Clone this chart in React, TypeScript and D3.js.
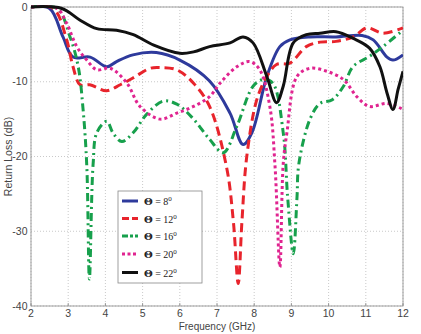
import React from "react";
import * as d3 from "d3";

const xTicks = [2, 3, 4, 5, 6, 7, 8, 9, 10, 11, 12];
const yTicks = [0, -10, -20, -30, -40];

const blueF = [2, 2.5, 2.86, 3.13, 3.59, 4.04, 4.3, 4.74, 5.37, 6.0, 6.8, 7.35, 7.7, 7.94, 8.34, 8.69, 8.96, 9.5, 10.2, 10.9, 11.2, 11.57, 11.73, 12];
const blueV = [0, -0.2, -4, -6.7, -6.7, -8, -7.3, -6.4, -6.1, -7.1, -9.9, -14.2, -18.4, -16.8, -9.3, -5.3, -4.4, -4, -4, -3.8, -4.4, -6.7, -7.1, -6.4];

const redF = [2, 2.6, 2.96, 3.13, 3.32, 3.58, 4.03, 4.4, 4.74, 5.2, 5.47, 5.92, 6.37, 6.8, 7.26, 7.44, 7.57, 7.67, 7.8, 8.07, 8.34, 8.6, 8.96, 9.4, 9.77, 10.2, 10.66, 11.03, 11.46, 12];
const redV = [0, -0.2, -4.4, -8, -10.4, -10.4, -11.2, -10.4, -9.5, -8.2, -8.1, -8.4, -10.2, -13.3, -21.5, -28.7, -37, -28.7, -20, -12.4, -9.3, -7.7, -7.5, -5.3, -4.7, -4.6, -4, -2.8, -3.5, -2.8];

const greenF = [2, 2.7, 3.05, 3.27, 3.4, 3.5, 3.57, 3.67, 3.77, 4.04, 4.2, 4.44, 4.75, 5.1, 5.55, 5.92, 6.37, 6.8, 7.17, 7.53, 7.97, 8.24, 8.5, 8.78, 8.9, 9.05, 9.15, 9.2, 9.5, 9.77, 10.1, 10.4, 10.65, 11.1, 11.46, 12];
const greenV = [0, -0.2, -4, -8, -13.7, -21.3, -36.4, -21, -16.8, -15.3, -16.8, -18, -16.8, -14.4, -12.6, -13, -15, -17.7, -19.5, -16, -10.6, -9.7, -10.2, -16.8, -25.5, -33, -25.5, -21, -15, -12.9, -12.4, -10.6, -8, -6.6, -5.3, -3.1];

const pinkF = [2, 2.7, 2.96, 3.23, 3.5, 3.77, 4.13, 4.58, 4.93, 5.47, 5.92, 6.37, 6.8, 7.08, 7.53, 7.88, 8.15, 8.42, 8.56, 8.69, 8.78, 8.88, 9.15, 9.5, 9.95, 10.4, 10.76, 11.1, 11.57, 12];
const pinkV = [0, -0.2, -2.2, -5.3, -7.1, -8.4, -8.2, -10.2, -13.3, -15, -14.2, -13.3, -12, -10.2, -8, -7.3, -8.4, -13.3, -21.3, -34.8, -21, -16.8, -9.3, -8.2, -8.6, -9.7, -12, -13.3, -12.9, -13.7];

const blackF = [2, 2.83, 3.3, 3.77, 4.3, 4.75, 5.3, 6.0, 6.37, 6.8, 7.35, 7.7, 7.97, 8.34, 8.6, 8.78, 9.05, 9.4, 9.77, 10.2, 10.66, 11.1, 11.38, 11.57, 11.73, 11.87, 12];
const blackV = [0, -0.2, -1.7, -2.9, -3.1, -3.7, -5.1, -6.2, -6, -5.3, -4.8, -4, -4.8, -9.3, -12.8, -10.6, -4.8, -3.7, -3.5, -3.3, -4.2, -5.5, -8, -11.5, -13.7, -11, -8.6];

const seriesNames = ["8", "12", "16", "20", "22"];

const series = [
  { name: seriesNames[0], f: blueF, v: blueV, color: "#2e3a9c", dash: "", ldash: "" },
  { name: seriesNames[1], f: redF, v: redV, color: "#e8242c", dash: "9,5", ldash: "7,3" },
  { name: seriesNames[2], f: greenF, v: greenV, color: "#17a04c", dash: "8,4,2,4", ldash: "6,2,3,2" },
  { name: seriesNames[3], f: pinkF, v: pinkV, color: "#e02490", dash: "3,3", ldash: "3,2.5" },
  { name: seriesNames[4], f: blackF, v: blackV, color: "#111111", dash: "", ldash: "" },
];

export default function App() {
  const W = 421, H = 334;
  const x = d3.scaleLinear().domain([2, 12]).range([31, 403]);
  const y = d3.scaleLinear().domain([0, -40]).range([7, 306]);
  const line = d3
    .line<[number, number]>()
    .x((d) => x(d[0]))
    .y((d) => y(d[1]))
    .curve(d3.curveCatmullRom.alpha(0.5));

  const font = "'Liberation Sans', Arial, sans-serif";
  const lx = 118, ly = 191, lw = 84, lh = 92;
  const legendY = [201, 218.5, 236, 254, 272.5];

  return (
    <svg width={W} height={H} style={{ position: "absolute", left: 0, top: 0 }}>
      <rect x={0} y={0} width={W} height={H} fill="#fff" />
      <defs>
        <clipPath id="plot">
          <rect x={31} y={5} width={372} height={302} />
        </clipPath>
      </defs>
      {xTicks.map((t) => (
        <line key={"gx" + t} x1={x(t)} x2={x(t)} y1={y(0)} y2={y(-40)} stroke="#bbb" strokeWidth={0.8} strokeDasharray="1,2" />
      ))}
      {yTicks.map((t) => (
        <line key={"gy" + t} x1={x(2)} x2={x(12)} y1={y(t)} y2={y(t)} stroke="#bbb" strokeWidth={0.8} strokeDasharray="1,2" />
      ))}
      {xTicks.map((t) => (
        <line key={"tk" + t} x1={x(t)} x2={x(t)} y1={y(-40)} y2={y(-40) - 3} stroke="#888" strokeWidth={0.8} />
      ))}
      <rect x={x(2)} y={y(0)} width={x(12) - x(2)} height={y(-40) - y(0)} fill="none" stroke="#888" strokeWidth={0.8} />
      <g clipPath="url(#plot)">
        {series.map((s) => (
          <path
            key={s.name}
            d={line(s.f.map((f, i) => [f, s.v[i]] as [number, number])) || ""}
            fill="none"
            stroke={s.color}
            strokeWidth={3}
            strokeDasharray={s.dash || undefined}
            strokeLinejoin="round"
          />
        ))}
      </g>
      {xTicks.map((t) => (
        <text key={"xt" + t} x={x(t)} y={316.5} textAnchor="middle" fontFamily={font} fontSize={10.5} fill="#444">
          {t}
        </text>
      ))}
      {yTicks.map((t) => (
        <text key={"yt" + t} x={x(2) - 3.5} y={y(t) + 3.5} textAnchor="end" fontFamily={font} fontSize={10.5} fill="#444">
          {t}
        </text>
      ))}
      <text x={217} y={330} textAnchor="middle" fontFamily={font} fontSize={10} fill="#444">
        Frequency (GHz)
      </text>
      <text transform={`translate(12,${y(-20)}) rotate(-90)`} textAnchor="middle" fontFamily={font} fontSize={10.5} fill="#444">
        Return Loss (dB)
      </text>
      <rect x={lx} y={ly} width={lw} height={lh} fill="#fff" stroke="#888" strokeWidth={0.8} />
      {series.map((s, i) => (
        <g key={"lg" + s.name}>
          <line x1={122} x2={138} y1={legendY[i]} y2={legendY[i]} stroke={s.color} strokeWidth={3} strokeDasharray={s.ldash || undefined} />
          <text x={144} y={legendY[i] + 4} fontFamily="'DejaVu Serif', 'Liberation Serif', serif" fontSize={10} fill="#222">
            <tspan fontWeight="bold">Θ</tspan>
            <tspan fontFamily="'Liberation Serif', serif">{" = " + s.name}</tspan>
            <tspan fontFamily="'Liberation Serif', serif" fontSize={7} dy={-4}>0</tspan>
          </text>
        </g>
      ))}
    </svg>
  );
}
